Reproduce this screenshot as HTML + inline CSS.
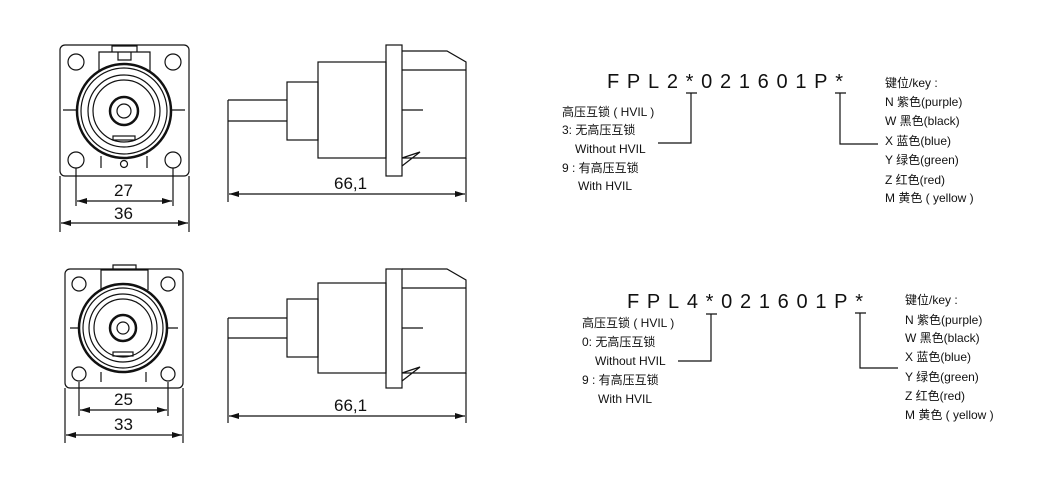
<!DOCTYPE html>
<html><head><meta charset="utf-8"><style>
html,body{margin:0;padding:0;background:#fff;}
svg{display:block}
.t{font-family:"Liberation Sans Narrow","Liberation Sans","Noto Sans CJK SC",sans-serif;fill:#111}
.d{font-family:"Liberation Sans Narrow","Liberation Sans",sans-serif;fill:#111;font-size:17px}
</style></head><body>
<svg width="1050" height="477" viewBox="0 0 1050 477" xmlns="http://www.w3.org/2000/svg">
<defs>
<marker id="a" viewBox="0 0 10 6" refX="10" refY="3" markerWidth="10" markerHeight="6" orient="auto-start-reverse" markerUnits="userSpaceOnUse"><path d="M0,0 L10,3 L0,6z" fill="#111"/></marker>
</defs>
<g fill="none" stroke="#111" stroke-width="1.2">
<!-- TOP front -->
<rect x="60" y="45" width="129" height="131" rx="5"/>
<circle cx="76" cy="62" r="8"/><circle cx="173" cy="62" r="8"/>
<circle cx="76" cy="160" r="8"/><circle cx="173" cy="160" r="8"/>
<path d="M99,72 V52 H150 V72 M112,52 V46 H137 V52 M118,52 V60 H131 V52"/>
<circle cx="124" cy="111" r="47" stroke-width="2.5"/>
<circle cx="124" cy="111" r="43"/>
<circle cx="124" cy="111" r="36"/>
<circle cx="124" cy="111" r="31"/>
<circle cx="124" cy="111" r="14" stroke-width="2.5"/>
<circle cx="124" cy="111" r="7"/>
<rect x="113" y="136" width="22" height="4"/>
<path d="M63,110 H77 M171,110 H185 M101,156 V168 M147,156 V168"/>
<circle cx="124" cy="164" r="3.5"/>
<path d="M76,168 V206 M173,168 V206 M60,176 V232 M189,176 V232"/>
<path d="M77,201 H172" marker-start="url(#a)" marker-end="url(#a)"/>
<path d="M61,223 H188" marker-start="url(#a)" marker-end="url(#a)"/>
<!-- TOP side -->
<path d="M228,100 H287 M228,121 H287 M228,100 V121"/>
<rect x="287" y="82" width="31" height="58"/>
<rect x="318" y="62" width="68" height="96"/>
<rect x="386" y="45" width="16" height="131"/>
<path d="M402,51 H447 L466,62 V158 H402 M402,70 H466 M402,110 H423 M402,158 L420,152 L402,166"/>
<path d="M228,121 V202 M466,158 V202"/>
<path d="M229,194 H465" marker-start="url(#a)" marker-end="url(#a)"/>
<!-- BOTTOM front -->
<rect x="65" y="269" width="118" height="119" rx="5"/>
<circle cx="79" cy="284" r="7"/><circle cx="168" cy="284" r="7"/>
<circle cx="79" cy="374" r="7"/><circle cx="168" cy="374" r="7"/>
<path d="M101,290 V270 H148 V290 M113,270 V265 H136 V270"/>
<circle cx="123" cy="328" r="44" stroke-width="2.5"/>
<circle cx="123" cy="328" r="40"/>
<circle cx="123" cy="328" r="34"/>
<circle cx="123" cy="328" r="29"/>
<circle cx="123" cy="328" r="13" stroke-width="2.5"/>
<circle cx="123" cy="328" r="6"/>
<rect x="113" y="352" width="20" height="4"/>
<path d="M70,328 H80 M166,328 H178 M101,372 V382 M146,372 V382"/>
<path d="M79,382 V416 M168,382 V416 M65,388 V443 M183,388 V443"/>
<path d="M80,410 H167" marker-start="url(#a)" marker-end="url(#a)"/>
<path d="M66,435 H182" marker-start="url(#a)" marker-end="url(#a)"/>
<!-- BOTTOM side -->
<path d="M228,318 H287 M228,338 H287 M228,318 V338"/>
<rect x="287" y="299" width="31" height="58"/>
<rect x="318" y="283" width="68" height="90"/>
<rect x="386" y="269" width="16" height="119"/>
<path d="M402,269 H447 L466,280 V373 H402 M402,288 H466 M402,328 H423 M402,373 L420,367 L402,381"/>
<path d="M228,338 V423 M466,373 V423"/>
<path d="M229,416 H465" marker-start="url(#a)" marker-end="url(#a)"/>
<!-- code connectors -->
<path d="M686,93 H697 M691,93 V143 H658 M835,93 H846 M840,93 V144 H878"/>
<path d="M706,314 H717 M711,314 V361 H678 M855,313 H866 M860,313 V368 H898"/>
</g>
<text class="d" x="114" y="196">27</text>
<text class="d" x="114" y="219">36</text>
<text class="d" x="334" y="189">66,1</text>
<text class="d" x="114" y="405">25</text>
<text class="d" x="114" y="430">33</text>
<text class="d" x="334" y="411">66,1</text>
<text class="t" x="607" y="88" font-size="20" textLength="236" lengthAdjust="spacing">FPL2*021601P*</text>
<text class="t" x="627" y="308" font-size="20" textLength="236" lengthAdjust="spacing">FPL4*021601P*</text>
<g class="t" font-size="12">
<text x="562" y="116">高压互锁 ( HVIL )</text>
<text x="562" y="134">3:  无高压互锁</text>
<text x="575" y="153">Without HVIL</text>
<text x="562" y="172">9 : 有高压互锁</text>
<text x="578" y="190">With HVIL</text>
<text x="885" y="87">键位/key :</text>
<text x="885" y="106">N 紫色(purple)</text>
<text x="885" y="125">W 黑色(black)</text>
<text x="885" y="145">X 蓝色(blue)</text>
<text x="885" y="164">Y 绿色(green)</text>
<text x="885" y="184">Z 红色(red)</text>
<text x="885" y="202">M 黄色 ( yellow )</text>
<text x="582" y="327">高压互锁 ( HVIL )</text>
<text x="582" y="346">0:  无高压互锁</text>
<text x="595" y="365">Without HVIL</text>
<text x="582" y="384">9 : 有高压互锁</text>
<text x="598" y="403">With HVIL</text>
<text x="905" y="304">键位/key :</text>
<text x="905" y="324">N 紫色(purple)</text>
<text x="905" y="342">W 黑色(black)</text>
<text x="905" y="361">X 蓝色(blue)</text>
<text x="905" y="381">Y 绿色(green)</text>
<text x="905" y="400">Z 红色(red)</text>
<text x="905" y="419">M 黄色 ( yellow )</text>
</g>
</svg>
</body></html>
